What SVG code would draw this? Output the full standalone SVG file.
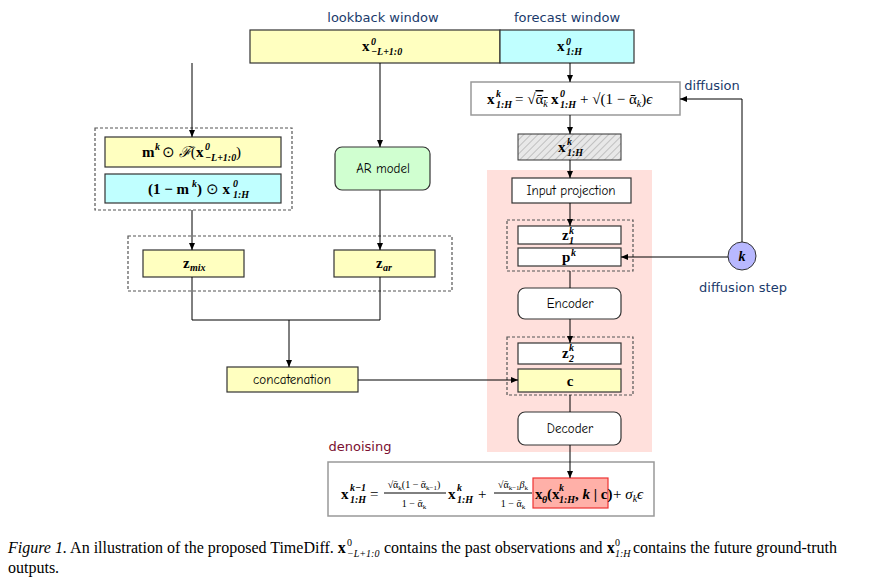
<svg xmlns="http://www.w3.org/2000/svg" width="896" height="577" viewBox="0 0 896 577">
<style>
.b{stroke:#333;stroke-width:1.2}
.y{fill:#ffffc0}.c{fill:#c0ffff}.w{fill:#fff}
.d{fill:none;stroke:#555;stroke-width:1.2;stroke-dasharray:3,2}
.l{fill:none;stroke:#000;stroke-width:1}
.s{font-family:"Comic Neue","DejaVu Sans",sans-serif;font-size:13px;text-anchor:middle}
.m{font-family:"Liberation Serif",serif;font-size:15px;text-anchor:middle;font-weight:bold}
.t{font-family:"Liberation Serif",serif;font-size:15px;font-weight:bold}
.n{font-family:"Liberation Serif",serif;font-size:15px}
.sm{font-family:"Liberation Serif",serif;font-size:10px;font-style:italic;font-weight:bold}
.f{font-family:"Liberation Serif",serif;font-size:10px;text-anchor:middle}
.lab{font-family:"DejaVu Sans",sans-serif;font-size:13px;fill:#1a3a6b;text-anchor:middle}
.cap{font-family:"Liberation Serif",serif;font-size:16px}
.cs{font-family:"Liberation Serif",serif;font-size:10px}
</style>
<defs>
<marker id="a" markerWidth="8" markerHeight="8" refX="7" refY="4" orient="auto" markerUnits="userSpaceOnUse"><path d="M0,1 L7,4 L0,7z" fill="#000"/></marker>
<pattern id="h" width="5" height="5" patternUnits="userSpaceOnUse" patternTransform="rotate(45)"><rect width="5" height="5" fill="#e8e8e8"/><line x1="0" y1="0" x2="0" y2="5" stroke="#999" stroke-width="1"/></pattern>
</defs>
<rect width="896" height="577" fill="#fff"/>
<rect x="487" y="170" width="165" height="282" fill="#ffe0dc"/>
<text class="lab" x="383" y="22">lookback window</text>
<text class="lab" x="567" y="22">forecast window</text>
<text class="lab" x="712" y="90">diffusion</text>
<text class="lab" x="743" y="292">diffusion step</text>
<text x="360" y="451" font-family="DejaVu Sans,sans-serif" font-size="13" fill="#7a1030" text-anchor="middle">denoising</text>

<g id="lookback"><rect x="250" y="30" width="250" height="33" class="y b"/><text class="t" x="362" y="51">x</text><text class="sm" x="371" y="45" font-style="normal">0</text><text class="sm" x="371" y="55">−L+1:0</text></g>
<g id="forecast"><rect x="500" y="30" width="134" height="33" class="c b"/><text class="t" x="557" y="51">x</text><text class="sm" x="566" y="45" font-style="normal">0</text><text class="sm" x="566" y="55">1:H</text></g>
<g id="diffbox"><rect x="471" y="82" width="209" height="33" fill="#fff" stroke="#999" stroke-width="1.5"/>
<text class="t" x="487" y="104">x</text><text class="sm" x="496" y="97">k</text><text class="sm" x="496" y="108">1:H</text>
<text class="n" x="515" y="104">= √<tspan text-decoration="overline">ᾱ<tspan font-size="10" font-style="italic" dy="3">k</tspan></tspan></text>
<text class="t" x="551" y="104">x</text><text class="sm" x="560" y="97" font-style="normal">0</text><text class="sm" x="560" y="108">1:H</text>
<text class="n" x="580" y="104">+ √(1 − ᾱ<tspan font-size="10" font-style="italic" dy="3">k</tspan><tspan dy="-3">)</tspan><tspan font-style="italic">ϵ</tspan></text></g>
<g id="hatched"><rect x="518" y="134" width="103" height="26" fill="url(#h)" stroke="#333"/><text class="t" x="558" y="152">x</text><text class="sm" x="567" y="145">k</text><text class="sm" x="567" y="156">1:H</text></g>
<g id="inproj"><rect x="512" y="178" width="119" height="25" class="w b"/><text class="s" x="571" y="195">Input projection</text></g>
<g id="grp1"><rect x="507" y="220" width="126" height="51" class="d"/><rect x="518" y="226" width="103" height="18" class="w b"/><text class="t" x="562" y="240">z</text><text class="sm" x="569" y="234">k</text><text class="sm" x="569" y="244" font-style="normal">1</text><rect x="518" y="248" width="103" height="18" class="w b"/><text class="t" x="562" y="262">p</text><text class="sm" x="571" y="256">k</text></g>
<g id="k"><circle cx="742" cy="256" r="14" fill="#b8b8ff" stroke="#333"/><text x="742" y="261" font-family="Liberation Serif,serif" font-size="14" font-weight="bold" font-style="italic" text-anchor="middle">k</text></g>
<g id="encoder"><rect x="518" y="288" width="103" height="31" rx="7" class="w b"/><text class="s" x="570" y="308">Encoder</text></g>
<g id="grp2"><rect x="507" y="337" width="126" height="58" class="d"/><rect x="518" y="343" width="103" height="21" class="w b"/><text class="t" x="562" y="358">z</text><text class="sm" x="569" y="351">k</text><text class="sm" x="569" y="362" font-style="normal">2</text><rect x="518" y="369" width="103" height="23" class="y b"/><text class="m" x="570" y="386">c</text></g>
<g id="decoder"><rect x="518" y="412" width="103" height="33" rx="7" class="w b"/><text class="s" x="570" y="433">Decoder</text></g>
<g id="denoise"><rect x="328" y="462" width="326" height="54" fill="#fff" stroke="#999" stroke-width="1.5"/><rect x="533" y="478" width="75" height="30" fill="#ffb0a8" stroke="#e33" stroke-width="1.2"/>
<text class="t" x="341" y="499">x</text><text class="sm" x="350" y="491">k−1</text><text class="sm" x="350" y="503">1:H</text>
<text class="n" x="370" y="499">=</text>
<text class="f" x="414" y="488">√ᾱ<tspan font-size="7" dy="2">k</tspan><tspan dy="-2">(1 − ᾱ</tspan><tspan font-size="7" dy="2">k−1</tspan><tspan dy="-2">)</tspan></text>
<line x1="384" y1="493" x2="446" y2="493" stroke="#000"/>
<text class="f" x="414" y="507">1 − ᾱ<tspan font-size="7" dy="2">k</tspan></text>
<text class="t" x="448" y="499">x</text><text class="sm" x="457" y="491">k</text><text class="sm" x="457" y="503">1:H</text>
<text class="n" x="478" y="499">+</text>
<text class="f" x="513" y="488">√ᾱ<tspan font-size="7" dy="2">k−1</tspan><tspan dy="-2" font-style="italic">β</tspan><tspan font-size="7" dy="2">k</tspan></text>
<line x1="494" y1="493" x2="532" y2="493" stroke="#000"/>
<text class="f" x="513" y="507">1 − ᾱ<tspan font-size="7" dy="2">k</tspan></text>
<text class="t" x="535" y="499" font-size="14">x</text><text class="sm" x="542" y="503" font-size="9">θ</text>
<text class="t" x="547" y="499" font-size="14">(x</text><text class="sm" x="559" y="491" font-size="9">k</text><text class="sm" x="559" y="503" font-size="9">1:H</text>
<text class="t" x="575" y="499" font-size="12.5">, <tspan font-style="italic">k</tspan> | c)</text>
<text class="n" x="613" y="499">+ <tspan font-style="italic">σ</tspan><tspan font-size="10" font-style="italic" dy="3">k</tspan><tspan dy="-3" font-style="italic">ϵ</tspan></text></g>
<g id="grp3"><rect x="95" y="128" width="197" height="82" class="d"/><rect x="105" y="137" width="176" height="30" class="y b"/>
<text class="t" x="142" y="157">m</text><text class="sm" x="155" y="150">k</text><text class="n" x="162" y="157">⊙ <tspan font-style="italic">ℱ</tspan>(</text><text class="t" x="196" y="157">x</text><text class="sm" x="205" y="150" font-style="normal">0</text><text class="sm" x="205" y="161">−L+1:0</text><text class="n" x="236" y="157">)</text>
<rect x="105" y="174" width="176" height="29" class="c b"/>
<text class="t" x="148" y="194">(1 − m</text><text class="sm" x="192" y="187">k</text><text class="t" x="197" y="194">) <tspan font-weight="normal">⊙</tspan> x</text><text class="sm" x="233" y="187" font-style="normal">0</text><text class="sm" x="233" y="198">1:H</text></g>
<g id="ar"><rect x="335" y="147" width="95" height="43" rx="7" fill="#d0ffd0" stroke="#333" stroke-width="1.2"/><text class="s" x="383" y="173">AR model</text></g>
<g id="grp4"><rect x="128" y="236" width="324" height="55" class="d"/><rect x="143" y="250" width="101" height="27" class="y b"/><text class="t" x="183" y="268">z</text><text class="sm" x="190" y="271">mix</text><rect x="334" y="250" width="101" height="27" class="y b"/><text class="t" x="376" y="268">z</text><text class="sm" x="383" y="271">ar</text></g>
<g id="concat"><rect x="227" y="367" width="131" height="25" class="y b"/><text class="s" x="292" y="384">concatenation</text></g>
<g id="connectors">
<path class="l" marker-end="url(#a)" d="M192,63 V137"/>
<path class="l" marker-end="url(#a)" d="M380,63 V147"/>
<path class="l" marker-end="url(#a)" d="M570,63 V82"/>
<path class="l" marker-end="url(#a)" d="M570,115 V134"/>
<path class="l" marker-end="url(#a)" d="M570,160 V178"/>
<path class="l" marker-end="url(#a)" d="M570,203 V226"/>
<path class="l" d="M570,271 V288"/>
<path class="l" marker-end="url(#a)" d="M570,319 V343"/>
<path class="l" d="M570,395 V412"/>
<path class="l" marker-end="url(#a)" d="M570,445 V478"/>
<path class="l" marker-end="url(#a)" d="M742,242 V99 H680"/>
<path class="l" marker-end="url(#a)" d="M728,257 H621"/>
<path class="l" marker-end="url(#a)" d="M192,210 V250"/>
<path class="l" marker-end="url(#a)" d="M380,190 V250"/>
<path class="l" d="M192,277 V320 H380 V277"/>
<path class="l" marker-end="url(#a)" d="M289,320 V367"/>
<path class="l" marker-end="url(#a)" d="M358,380 H518"/>
</g>
<text class="cap" x="8" y="553"><tspan font-style="italic">Figure 1.</tspan> An illustration of the proposed TimeDiff. <tspan font-weight="bold">x</tspan></text>
<text class="cs" x="347" y="546">0</text><text class="cs" x="347" y="557" font-style="italic">−L+1:0</text>
<text class="cap" x="384" y="553">contains the past observations and <tspan font-weight="bold">x</tspan></text>
<text class="cs" x="615" y="546">0</text><text class="cs" x="615" y="557" font-style="italic">1:H</text>
<text class="cap" x="633" y="553">contains the future ground-truth</text>
<text class="cap" x="8" y="573">outputs.</text>
</svg>
